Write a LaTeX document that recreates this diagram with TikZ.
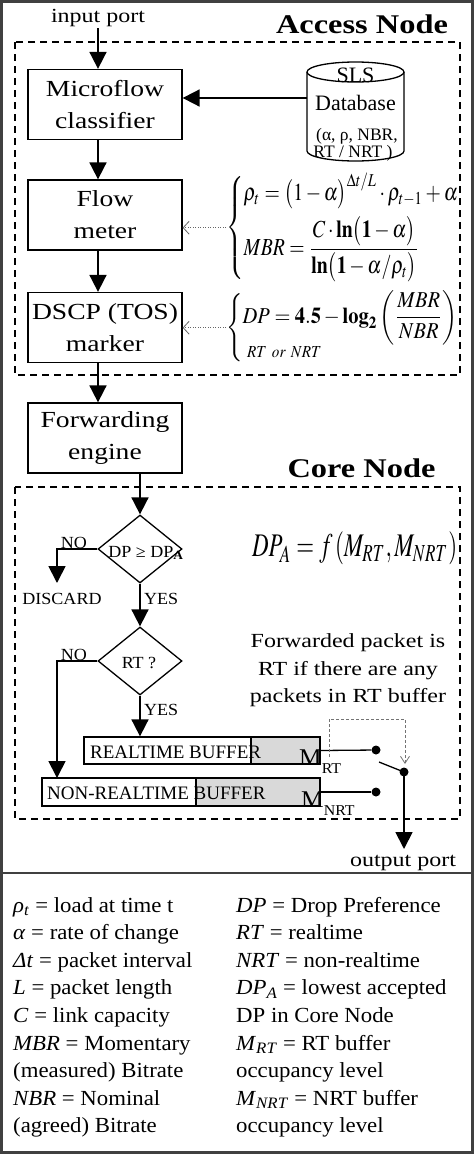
\documentclass[tikz,border=0pt]{standalone}
\usepackage{amsmath}
\usepackage{mathptmx}
\usepackage[no-math]{fontspec}
\setmainfont{Liberation Serif}
\newfontfamily\wf{Liberation Serif}[FakeStretch=1.2]
\newfontfamily\lf{Liberation Serif}[FakeStretch=1.06]
\usepackage{graphicx}
\usetikzlibrary{arrows.meta,shapes.geometric}
\newcommand\fsz[1]{\fontsize{#1}{#1}\selectfont}
\definecolor{bufgray}{gray}{0.85}
\definecolor{framegray}{gray}{0.25}
\begin{document}
\begin{tikzpicture}[x=1pt,y=-1pt,
  blk/.style={draw, line width=1.3pt, minimum width=154pt, minimum height=70pt, align=center, inner sep=0pt, font=\wf\fontsize{23}{32}\selectfont},
  arr/.style={line width=1.8pt, -{Triangle[length=17pt,width=17pt]}},
  ln/.style={line width=1.3pt},
  dbox/.style={line width=1.4pt, dash pattern=on 7pt off 5pt},
  dotarr/.style={line width=0.8pt, draw=black!60, dash pattern=on 1pt off 1.5pt, -{Straight Barb[length=6pt,width=13pt]}},
  ctrl/.style={line width=0.8pt, draw=black!55, dash pattern=on 3pt off 2pt, -{Straight Barb[length=7pt,width=9pt]}},
  txt/.style={inner sep=0pt, anchor=base},
  lbl/.style={inner sep=0pt, anchor=base, font=\lf\fsz{17}},
  dot/.style={circle, fill, inner sep=0pt, minimum size=9pt},
  dia/.style={diamond, draw, line width=1.3pt, aspect=1.235, minimum width=84pt, minimum height=68pt, inner sep=0pt},
  leg/.style={inner sep=0pt, anchor=base west, font=\lf\fsz{21.5}},
]
\useasboundingbox (0,0) rectangle (474,1154);
\draw[line width=3pt, framegray] (1.5,1.5) rectangle (472.5,1152.5);
\draw[line width=1.6pt, framegray] (0,873) -- (474,873);

% dashed node frames
\draw[dbox] (15,42) rectangle (460,375);
\draw[dbox] (15,487) rectangle (460,819);
\node[txt, font=\wf\fsz{27}\bfseries] (accT) at (362,33) {Access Node};
\node[txt, font=\wf\fsz{27}\bfseries] (coreT) at (361.5,477) {Core Node};

% access node blocks
\node[txt, font=\wf\fsz{20}] (inp) at (98,22) {input port};
\node[blk] (mc) at (105,104.5) {Microflow\\classifier};
\node[blk] (fm) at (105,215) {Flow\\meter};
\node[blk] (ds) at (105,327.5) {DSCP (TOS)\\marker};
\node[blk] (fe) at (105,438) {Forwarding\\engine};
\coordinate (ax) at (98,0);
\coordinate (in0) at (98,28);
\draw[arr] (in0) -- (ax |- mc.north);
\draw[arr] (ax |- mc.south) -- (ax |- fm.north);
\draw[arr] (ax |- fm.south) -- (ax |- ds.north);
\draw[arr] (ax |- ds.south) -- (ax |- fe.north);

% database
\draw[ln, fill=white] (307,72) -- (307,151) arc[start angle=180, end angle=360, x radius=48.5pt, y radius=10pt] -- (404,72);
\draw[ln] (355.5,72) ellipse [x radius=48.5pt, y radius=10pt];
\node[txt, font=\fsz{22}] (db1) at (355.5,82) {SLS};
\node[txt, font=\fsz{22}] (db2) at (355.5,110) {Database};
\node[txt, font=\fsz{17.5}] (db3) at (357,140) {(α, ρ, NBR,};
\node[txt, font=\fsz{17.5}] (db4) at (353,157) {RT / NRT )};
\coordinate (dbw) at (307,98);
\draw[arr] (dbw) -- (dbw -| mc.east);

% equations
\node[anchor=north west, inner sep=0pt] (eq1) at (226,173) {\resizebox*{234pt}{109pt}{$\left\{\begin{array}{@{}l@{}}
 \rho_t=\bigl(1-\alpha\bigr)^{\Delta t/L}\cdot\rho_{t-1}+\alpha\\[3pt]
 MBR=\dfrac{C\cdot\mathbf{ln}\bigl(\mathbf{1}-\alpha\bigr)}{\mathbf{ln}\bigl(\mathbf{1}-\alpha/\rho_t\bigr)}
 \end{array}\right.$}};
\node[anchor=north west, inner sep=0pt] (eq2) at (226,290) {\resizebox*{234pt}{75pt}{$\left\{\begin{array}{@{}l@{}}
 DP=\mathbf{4.5}-\mathbf{log}_{\mathbf{2}}\left(\dfrac{MBR}{NBR}\right)\\[-3pt]
 \;{\scriptstyle RT\ or\ NRT}
 \end{array}\right.$}};
\draw[dotarr] (eq1.west) -- (eq1.west -| fm.east);
\draw[dotarr] (eq2.west) -- (eq2.west -| ds.east);

% core node
\node[anchor=north west, inner sep=0pt] (eq3) at (252,532) {\resizebox*{205pt}{33pt}{$DP_A=f\left(M_{RT},M_{NRT}\right)$}};
\node[txt, font=\wf\fsz{20}] (fw1) at (348,647) {Forwarded packet is};
\node[txt, font=\wf\fsz{20}] (fw2) at (348,675) {RT if there are any};
\node[txt, font=\wf\fsz{20}] (fw3) at (348,702) {packets in RT buffer};

\node[dia] (d1) at (140,549) {};
\node[dia] (d2) at (140,661) {};
\node[lbl] (d1t) at (146,557) {DP ≥ DP\textsubscript{\textbf{A}}};
\node[lbl] (d2t) at (139,668) {RT ?};
\draw[arr] (fe.south -| d1) -- (d1.north);
\coordinate (dis) at (57,583);
\draw[arr] (d1.west) -| (dis);
\node[lbl] (no1) at (74,548) {NO};
\node[lbl] (disT) at (62,604) {DISCARD};
\draw[arr] (d1.south) -- (d2.north);
\node[lbl, anchor=base west] (yes1) at (144,604) {YES};
\node[lbl] (no2) at (74,660) {NO};
\node[lbl, anchor=base west] (yes2) at (144,715) {YES};

% buffers
\fill[bufgray] (251,737) rectangle (320,764);
\fill[bufgray] (196,778) rectangle (320,806);
\draw[ln] (251,737) -- (251,764);
\draw[ln] (196,778) -- (196,806);
\node[draw, line width=1.3pt, minimum width=236pt, minimum height=27pt, inner sep=0pt] (rt) at (202,750.5) {};
\node[draw, line width=1.3pt, minimum width=278pt, minimum height=28pt, inner sep=0pt] (nrt) at (181,792) {};
\node[txt, anchor=base west, font=\fsz{19}] (rtT) at (90,758) {REALTIME BUFFER};
\node[txt, anchor=base west, font=\fsz{19}] (nrtT) at (47,799) {NON-REALTIME BUFFER};
\draw[arr] (d2.south) -- (d2.south |- rt.north);
\coordinate (nrtin) at (57,778);
\draw[arr] (d2.west) -| (nrtin);

\node[txt, anchor=base west, font=\lf\fsz{24}] (mrt) at (299,765) {M\raisebox{-8pt}{\fsz{15}RT}};
\node[txt, anchor=base west, font=\lf\fsz{24}] (mnrt) at (301,807) {M\raisebox{-8pt}{\fsz{15}NRT}};

% switch
\node[dot] (s1) at (376,750) {};
\node[dot] (s2) at (376,792) {};
\node[dot] (pv) at (404,772) {};
\draw[ln] (rt.east) -- (s1);
\draw[ln] (nrt.east) -- (s2);
\coordinate (arm) at (379,762);
\draw[ln] (arm) -- (pv.center);
\coordinate (outp) at (404,849);
\draw[arr] (pv.center) -- (outp);
\node[txt, font=\wf\fsz{20}] (outT) at (403,866) {output port};
\coordinate (c0) at (329,757);
\coordinate (c1) at (329,719);
\coordinate (c2) at (405,719);
\coordinate (c3) at (405,764);
\draw[ctrl] (c0) -- (c1) -- (c2) -- (c3);

% legend
\foreach \i/\t in {0/{\textit{ρ}\textsubscript{\textit{t}} = load at time t},
  1/{\textit{α} = rate of change},
  2/{\textit{Δt} = packet interval},
  3/{\textit{L} = packet length},
  4/{\textit{C} = link capacity},
  5/{\textit{MBR} = Momentary},
  6/{(measured) Bitrate},
  7/{\textit{NBR} = Nominal},
  8/{(agreed) Bitrate}}
  \node[leg] (legL\i) at (13,912+27.6*\i) {\t};
\foreach \i/\t in {0/{\textit{DP} = Drop Preference},
  1/{\textit{RT} = realtime},
  2/{\textit{NRT} = non-realtime},
  3/{\textit{DP}\textsubscript{\textit{A}} = lowest accepted},
  4/{DP in Core Node},
  5/{\textit{M}\textsubscript{\textit{RT}} = RT buffer},
  6/{occupancy level},
  7/{\textit{M}\textsubscript{\textit{NRT}} = NRT buffer},
  8/{occupancy level}}
  \node[leg] (legR\i) at (236,912+27.6*\i) {\t};
\end{tikzpicture}
\end{document}
